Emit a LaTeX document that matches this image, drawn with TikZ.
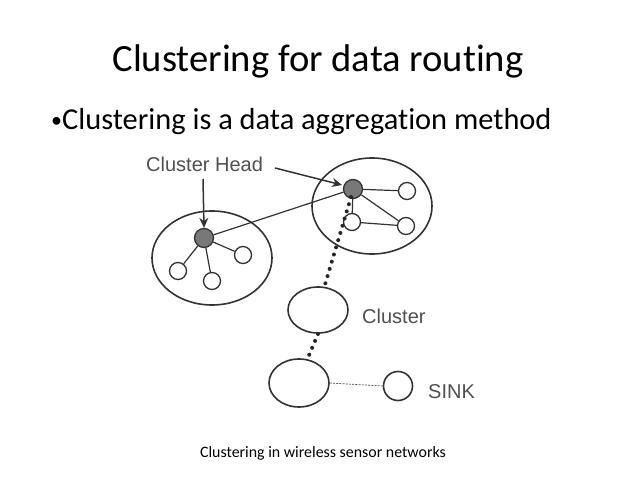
\documentclass[tikz,border=0pt]{standalone}
\usepackage{fontspec}
\setmainfont{Carlito}[Ligatures=NoCommon]
\newfontfamily\arialfont{Liberation Sans}
\usetikzlibrary{arrows.meta,shapes.geometric}
\definecolor{linegray}{HTML}{333333}
\definecolor{textgray}{HTML}{505050}
\definecolor{headgray}{HTML}{787878}
\begin{document}
\begin{tikzpicture}[x=1pt,y=-1pt,
  clus/.style={draw=linegray,line width=1.6pt,ellipse,inner sep=0pt},
  member/.style={circle,draw=linegray,line width=1.3pt,fill=white,minimum size=17pt,inner sep=0pt},
  headnode/.style={circle,draw=linegray,line width=1.3pt,fill=headgray,minimum size=19pt,inner sep=0pt},
  link/.style={draw=linegray,line width=1.2pt},
  dotline/.style={draw=black!85,line width=4pt,line cap=round,dash pattern=on 0pt off 7.5pt},
  lbl/.style={font=\arialfont\fontsize{20}{24}\selectfont,text=textgray,inner sep=0pt,anchor=base west},
  pointer/.style={draw=linegray,line width=1.5pt,-{Stealth[length=10pt,width=9pt]}}]
\useasboundingbox (0,0) rectangle (638,478);
\fill[white] (0,0) rectangle (638,478);
% texts
\node[inner sep=0pt,anchor=base] (title) at (318,72) {\fontsize{38.6}{46}\selectfont Clustering for data routing};
\node[inner sep=0pt,anchor=base west] (bullet) at (51,130) {\raisebox{2.5pt}{\fontsize{22}{26}\selectfont •}\fontsize{30.4}{36}\selectfont Clustering is a data aggregation method};
\node[inner sep=0pt,anchor=base] (caption) at (323,458) {\fontsize{15.9}{19}\selectfont Clustering in wireless sensor networks};
% clusters
\node[clus,minimum width=120pt,minimum height=94pt] (cl1) at (212,258) {};
\node[clus,minimum width=120pt,minimum height=96pt] (cl2) at (372,206) {};
\node[clus,minimum width=60pt,minimum height=46pt] (cl3) at (318,310) {};
\node[clus,minimum width=60pt,minimum height=48pt] (cl4) at (299,383) {};
\node[circle,draw=linegray,line width=1.6pt,minimum size=29pt,inner sep=0pt] (sink) at (398,386) {};
% left cluster members
\node[headnode] (h1) at (204,238) {};
\node[member] (a1) at (178,271) {};
\node[member] (a2) at (212,281) {};
\node[member] (a3) at (243,255) {};
% right cluster members
\node[headnode] (h2) at (353,189) {};
\node[member] (b1) at (407,191) {};
\node[member] (b2) at (352,222) {};
\node[member] (b3) at (406,226) {};
% links
\draw[link] (h1) -- (a1);
\draw[link] (h1) -- (a2);
\draw[link] (h1) -- (a3);
\draw[link] (h2) -- (b1);
\draw[link] (h2) -- (b2);
\draw[link] (h2) -- (b3);
\draw[link] (b2) -- (b3);
\draw[link] (h1) -- (h2);
% dotted routing
\coordinate (d1) at (351,197);
\coordinate (d2) at (324,288);
\coordinate (d3) at (318,334);
\coordinate (d4) at (307,360);
\draw[dotline] (d1) -- (d2);
\draw[dotline] (d3) -- (d4);
\draw[draw=black!70,line width=0.7pt,dash pattern=on 2pt off 1.2pt] (cl4.east) -- (sink.west);
% labels
\node[lbl] (chead) at (146,172) {Cluster Head};
\node[lbl] (clbl) at (362,324) {Cluster};
\node[lbl] (slbl) at (428,399) {SINK};
\coordinate (p1) at (203,179);
\coordinate (p2) at (275,168);
\coordinate (q2) at (342,185);
\draw[pointer] (p1) -- (h1.north);
\draw[pointer] (p2) -- (q2);
\end{tikzpicture}
\end{document}
